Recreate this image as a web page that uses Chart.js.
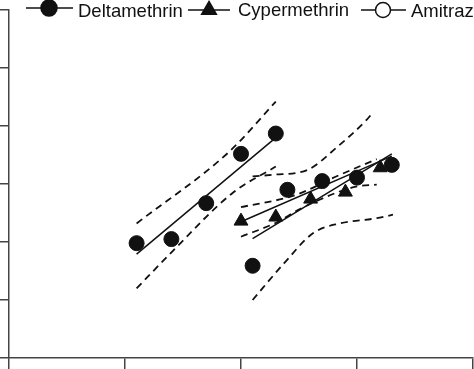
<!DOCTYPE html>
<html>
<head>
<meta charset="utf-8">
<script src="https://cdn.jsdelivr.net/npm/chart.js@4.4.1/dist/chart.umd.min.js"></script>
<style>
  body { margin: 0; background: #fff; }
  #grafico { display: block; }
</style>
</head>
<body>
<canvas id="grafico" width="474" height="369"></canvas>
<script>
// Dados (eixo x = log dose, eixo y = probit)
const deltaX1 = [1.1, 1.4, 1.7, 2.0, 2.3];
const deltaY1 = [1.98, 2.05, 2.67, 3.52, 3.87];
const deltaX2 = [2.1, 2.4, 2.7, 3.0, 3.3];
const deltaY2 = [1.59, 2.90, 3.05, 3.11, 3.33];
const cyperX = [2.0, 2.3, 2.6, 2.9, 3.2];
const cyperY = [2.36, 2.43, 2.74, 2.86, 3.28];
const amitrazX = [];
const amitrazY = [];

// Retas de regressão (pontos extremos)
const retaDelta1X = [1.1, 2.3];
const retaDelta1Y = [1.79, 3.80];
const retaDelta2X = [2.1, 3.3];
const retaDelta2Y = [2.06, 3.52];
const retaCyperX = [2.0, 3.3];
const retaCyperY = [2.35, 3.48];

// Intervalos de confiança (linhas tracejadas)
const icDelta1SupX = [1.1, 1.9, 2.3];
const icDelta1SupY = [2.32, 3.56, 4.42];
const icDelta1InfX = [1.1, 1.39, 1.93, 2.3];
const icDelta1InfY = [1.20, 1.80, 2.85, 3.30];
const icDelta2SupX = [2.1, 2.28, 2.57, 2.83, 3.08, 3.14];
const icDelta2SupY = [3.13, 3.16, 3.24, 3.64, 4.10, 4.24];
const icDelta2InfX = [2.1, 2.37, 2.62, 2.85, 3.17, 3.31];
const icDelta2InfY = [1.00, 1.63, 2.15, 2.32, 2.41, 2.47];
const icCyperSupX = [2.0, 2.47, 2.81, 3.17];
const icCyperSupY = [2.60, 2.81, 3.12, 3.43];
const icCyperInfX = [2.0, 2.32, 2.49, 2.98, 3.17];
const icCyperInfY = [2.09, 2.35, 2.55, 2.95, 2.99];

// Ticks dos eixos
const ticksX = [0, 1, 2, 3, 4];
const ticksY = [0, 1, 2, 3, 4, 5, 6];

const corPreta = '#111';
const corEixo = '#444';

// Junta arrays x e y em pontos
function pontos(xs, ys) {
    return xs.map((x, i) => ({ x: x, y: ys[i] }));
}

function marcadores(label, xs, ys, estilo, raio, preenchido) {
    return {
        label: label,
        data: pontos(xs, ys),
        showLine: false,
        pointStyle: estilo,
        pointRadius: raio,
        pointHoverRadius: raio,
        backgroundColor: preenchido ? corPreta : '#fff',
        borderColor: corPreta,
        borderWidth: 1,
    };
}

function linha(xs, ys, tracejada) {
    return {
        data: pontos(xs, ys),
        showLine: true,
        pointRadius: 0,
        borderColor: corPreta,
        borderWidth: tracejada ? 1.8 : 1.5,
        borderDash: tracejada ? [7, 5] : [],
        cubicInterpolationMode: tracejada ? 'monotone' : 'default',
        fill: false,
    };
}

const datasets = [
    marcadores('Deltamethrin', deltaX1.concat(deltaX2), deltaY1.concat(deltaY2), 'circle', 7.5, true),
    marcadores('Cypermethrin', cyperX, cyperY, 'triangle', 8, true),
    marcadores('Amitraz', amitrazX, amitrazY, 'circle', 7, false),
    linha(retaDelta1X, retaDelta1Y, false),
    linha(retaDelta2X, retaDelta2Y, false),
    linha(retaCyperX, retaCyperY, false),
    linha(icDelta1SupX, icDelta1SupY, true),
    linha(icDelta1InfX, icDelta1InfY, true),
    linha(icDelta2SupX, icDelta2SupY, true),
    linha(icDelta2InfX, icDelta2InfY, true),
    linha(icCyperSupX, icCyperSupY, true),
    linha(icCyperInfX, icCyperInfY, true),
];

// Legenda desenhada à mão (linha com marcador no meio + texto)
const legendaPlugin = {
    id: 'legendaManual',
    afterDraw(chart) {
        const ctx = chart.ctx;
        const itens = [
            { ds: 0, x0: 26, x1: 73, cx: 49, cy: 8, r: 8, tx: 78, ty: 17 },
            { ds: 1, x0: 188, x1: 230, cx: 209, cy: 10, r: 8.5, tx: 238, ty: 16 },
            { ds: 2, x0: 361, x1: 406, cx: 383, cy: 10, r: 7.5, tx: 411, ty: 17 },
        ];
        ctx.save();
        itens.forEach(item => {
            const ds = chart.data.datasets[item.ds];
            ctx.strokeStyle = corPreta;
            ctx.lineWidth = 1.5;
            ctx.setLineDash([]);
            ctx.beginPath();
            ctx.moveTo(item.x0, item.cy);
            ctx.lineTo(item.x1, item.cy);
            ctx.stroke();
            ctx.fillStyle = ds.backgroundColor;
            Chart.helpers.drawPoint(ctx, {
                pointStyle: ds.pointStyle,
                radius: item.r,
                borderWidth: 1.5,
                rotation: 0,
            }, item.cx, item.cy);
            ctx.fillStyle = corPreta;
            ctx.font = '18.5px "Liberation Sans", Arial, sans-serif';
            ctx.textBaseline = 'alphabetic';
            ctx.fillText(ds.label, item.tx, item.ty);
        });
        ctx.restore();
    }
};

const ctx = document.getElementById('grafico').getContext('2d');
new Chart(ctx, {
    type: 'scatter',
    data: { datasets: datasets },
    options: {
        responsive: false,
        animation: false,
        layout: { autoPadding: false, padding: { top: 10, right: 1, left: 0, bottom: 0 } },
        plugins: {
            legend: { display: false },
            tooltip: { enabled: false },
        },
        scales: {
            x: {
                type: 'linear',
                min: ticksX[0],
                max: ticksX[ticksX.length - 1],
                afterBuildTicks: scale => { scale.ticks = ticksX.map(v => ({ value: v })); },
                ticks: { display: false },
                grid: { drawOnChartArea: false, drawTicks: true, tickLength: 11, color: corEixo, lineWidth: 1.5 },
                border: { display: true, color: corEixo, width: 1.5 },
            },
            y: {
                type: 'linear',
                min: ticksY[0],
                max: ticksY[ticksY.length - 1],
                afterBuildTicks: scale => { scale.ticks = ticksY.map(v => ({ value: v })); },
                ticks: { display: false },
                grid: { drawOnChartArea: false, drawTicks: true, tickLength: 9, color: corEixo, lineWidth: 1.5 },
                border: { display: true, color: corEixo, width: 1.5 },
            },
        },
    },
    plugins: [legendaPlugin],
});
</script>
</body>
</html>
